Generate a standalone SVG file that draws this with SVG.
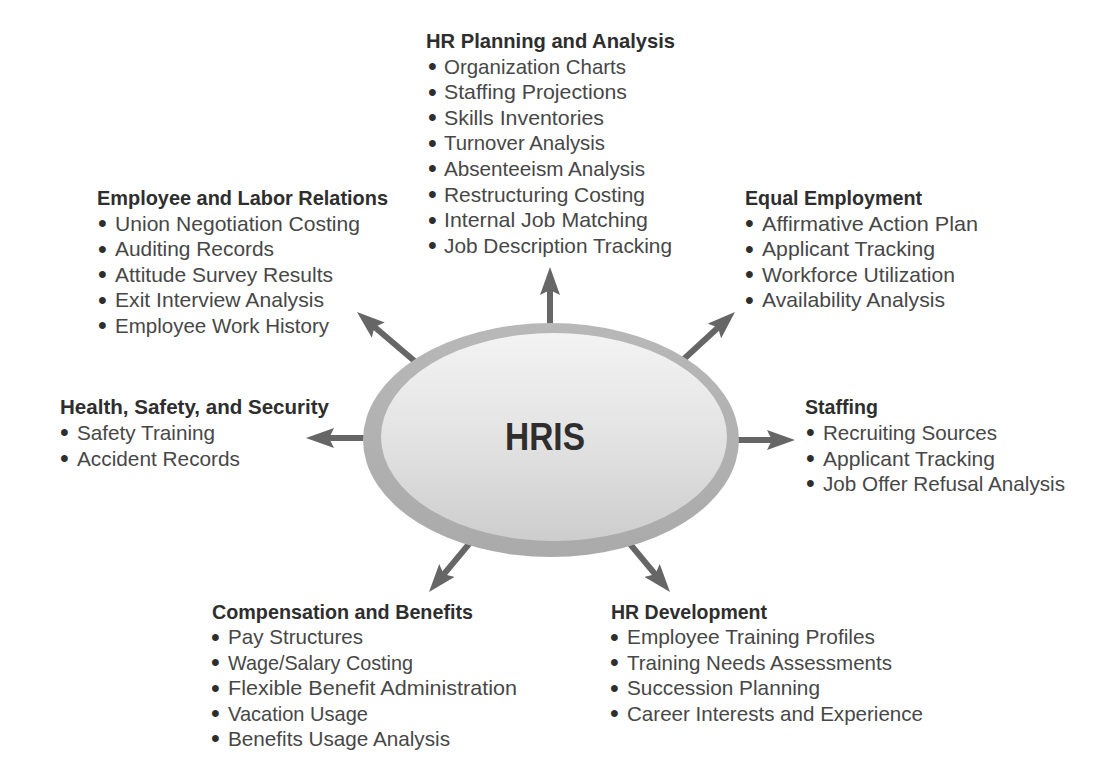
<svg xmlns="http://www.w3.org/2000/svg" width="1118" height="778" viewBox="0 0 1118 778">
  <style>
    .h { font-family: "Liberation Sans", Arial, sans-serif; font-weight: bold; font-size: 21px; fill: #2e2e2e; }
    .i { font-family: "Liberation Sans", Arial, sans-serif; font-size: 21px; fill: #474747; }
    .b { font-family: "Liberation Sans", Arial, sans-serif; font-size: 25px; fill: #2e2e2e; }
    .c { stroke: #666666; stroke-width: 6; fill: none; marker-end: url(#ah); }
    .hris { font-family: "Liberation Sans", Arial, sans-serif; font-weight: bold; font-size: 38px; fill: #2e2e2e; }
  </style>
  <defs>
    <marker id="ah" viewBox="0 0 28 20" refX="18" refY="10" markerWidth="28" markerHeight="20" orient="auto" markerUnits="userSpaceOnUse">
      <path d="M0,0 L28,10 L0,20 L5,10 Z" fill="#666666"/>
    </marker>
    <linearGradient id="ring" x1="0" y1="0" x2="0" y2="1">
      <stop offset="0" stop-color="#b8b8b8"/>
      <stop offset="1" stop-color="#aaaaaa"/>
    </linearGradient>
    <linearGradient id="face" x1="0" y1="0" x2="0" y2="1">
      <stop offset="0" stop-color="#f3f3f3"/>
      <stop offset="0.5" stop-color="#e3e3e3"/>
      <stop offset="1" stop-color="#cdcdcd"/>
    </linearGradient>
  </defs>
  <rect width="1118" height="778" fill="#ffffff"/>

  <g id="connectors">
    <line class="c" x1="550" y1="340" x2="550" y2="277"/>
    <line class="c" x1="425" y1="370" x2="364.6" y2="318.5"/>
    <line class="c" x1="672" y1="370" x2="727.6" y2="318.8"/>
    <line class="c" x1="380" y1="438" x2="316" y2="438"/>
    <line class="c" x1="720" y1="440" x2="785" y2="440"/>
    <line class="c" x1="484" y1="526" x2="435.4" y2="584.3"/>
    <line class="c" x1="615" y1="526" x2="663.6" y2="584.3"/>
  </g>

  <g id="hris">
    <ellipse cx="551" cy="440" rx="188" ry="117" fill="url(#ring)"/>
    <ellipse cx="554" cy="437" rx="173" ry="104" fill="url(#face)"/>
    <text class="hris" x="505" y="450" textLength="80" lengthAdjust="spacingAndGlyphs">HRIS</text>
  </g>

  <g id="hr-planning">
    <text class="h" x="426" y="48" textLength="249" lengthAdjust="spacingAndGlyphs">HR Planning and Analysis</text>
    <text class="b" x="428" y="75">•</text><text class="i" x="444" y="73.6" textLength="182" lengthAdjust="spacingAndGlyphs">Organization Charts</text>
    <text class="b" x="428" y="100.6">•</text><text class="i" x="444" y="99.2" textLength="183" lengthAdjust="spacingAndGlyphs">Staffing Projections</text>
    <text class="b" x="428" y="126.2">•</text><text class="i" x="444" y="124.8" textLength="160" lengthAdjust="spacingAndGlyphs">Skills Inventories</text>
    <text class="b" x="428" y="151.8">•</text><text class="i" x="444" y="150.4" textLength="161" lengthAdjust="spacingAndGlyphs">Turnover Analysis</text>
    <text class="b" x="428" y="177.4">•</text><text class="i" x="444" y="176" textLength="201" lengthAdjust="spacingAndGlyphs">Absenteeism Analysis</text>
    <text class="b" x="428" y="203">•</text><text class="i" x="444" y="201.6" textLength="201" lengthAdjust="spacingAndGlyphs">Restructuring Costing</text>
    <text class="b" x="428" y="228.6">•</text><text class="i" x="444" y="227.2" textLength="204" lengthAdjust="spacingAndGlyphs">Internal Job Matching</text>
    <text class="b" x="428" y="254.2">•</text><text class="i" x="444" y="252.8" textLength="228" lengthAdjust="spacingAndGlyphs">Job Description Tracking</text>
  </g>

  <g id="employee-labor">
    <text class="h" x="97" y="205" textLength="291" lengthAdjust="spacingAndGlyphs">Employee and Labor Relations</text>
    <text class="b" x="98" y="232">•</text><text class="i" x="115" y="230.6" textLength="245" lengthAdjust="spacingAndGlyphs">Union Negotiation Costing</text>
    <text class="b" x="98" y="257.6">•</text><text class="i" x="115" y="256.2" textLength="159" lengthAdjust="spacingAndGlyphs">Auditing Records</text>
    <text class="b" x="98" y="283.2">•</text><text class="i" x="115" y="281.8" textLength="218" lengthAdjust="spacingAndGlyphs">Attitude Survey Results</text>
    <text class="b" x="98" y="308.8">•</text><text class="i" x="115" y="307.4" textLength="209" lengthAdjust="spacingAndGlyphs">Exit Interview Analysis</text>
    <text class="b" x="98" y="334.4">•</text><text class="i" x="115" y="333" textLength="214" lengthAdjust="spacingAndGlyphs">Employee Work History</text>
  </g>

  <g id="equal-employment">
    <text class="h" x="745" y="205" textLength="177" lengthAdjust="spacingAndGlyphs">Equal Employment</text>
    <text class="b" x="745" y="232">•</text><text class="i" x="762" y="230.6" textLength="216" lengthAdjust="spacingAndGlyphs">Affirmative Action Plan</text>
    <text class="b" x="745" y="257.6">•</text><text class="i" x="762" y="256.2" textLength="173" lengthAdjust="spacingAndGlyphs">Applicant Tracking</text>
    <text class="b" x="745" y="283.2">•</text><text class="i" x="762" y="281.8" textLength="193" lengthAdjust="spacingAndGlyphs">Workforce Utilization</text>
    <text class="b" x="745" y="308.8">•</text><text class="i" x="762" y="307.4" textLength="183" lengthAdjust="spacingAndGlyphs">Availability Analysis</text>
  </g>

  <g id="health-safety">
    <text class="h" x="60" y="414" textLength="269" lengthAdjust="spacingAndGlyphs">Health, Safety, and Security</text>
    <text class="b" x="60" y="441.4">•</text><text class="i" x="77" y="440" textLength="138" lengthAdjust="spacingAndGlyphs">Safety Training</text>
    <text class="b" x="60" y="466.9">•</text><text class="i" x="77" y="465.5" textLength="163" lengthAdjust="spacingAndGlyphs">Accident Records</text>
  </g>

  <g id="staffing">
    <text class="h" x="805" y="414" textLength="73" lengthAdjust="spacingAndGlyphs">Staffing</text>
    <text class="b" x="806" y="441.4">•</text><text class="i" x="823" y="440" textLength="174" lengthAdjust="spacingAndGlyphs">Recruiting Sources</text>
    <text class="b" x="806" y="466.9">•</text><text class="i" x="823" y="465.5" textLength="172" lengthAdjust="spacingAndGlyphs">Applicant Tracking</text>
    <text class="b" x="806" y="492.4">•</text><text class="i" x="823" y="491" textLength="242" lengthAdjust="spacingAndGlyphs">Job Offer Refusal Analysis</text>
  </g>

  <g id="compensation">
    <text class="h" x="212" y="619" textLength="261" lengthAdjust="spacingAndGlyphs">Compensation and Benefits</text>
    <text class="b" x="211" y="645.8">•</text><text class="i" x="228" y="644.4" textLength="135" lengthAdjust="spacingAndGlyphs">Pay Structures</text>
    <text class="b" x="211" y="671.2">•</text><text class="i" x="228" y="669.8" textLength="185" lengthAdjust="spacingAndGlyphs">Wage/Salary Costing</text>
    <text class="b" x="211" y="696.6">•</text><text class="i" x="228" y="695.2" textLength="289" lengthAdjust="spacingAndGlyphs">Flexible Benefit Administration</text>
    <text class="b" x="211" y="722">•</text><text class="i" x="228" y="720.6" textLength="140" lengthAdjust="spacingAndGlyphs">Vacation Usage</text>
    <text class="b" x="211" y="747.4">•</text><text class="i" x="228" y="746" textLength="222" lengthAdjust="spacingAndGlyphs">Benefits Usage Analysis</text>
  </g>

  <g id="hr-development">
    <text class="h" x="611" y="619" textLength="156" lengthAdjust="spacingAndGlyphs">HR Development</text>
    <text class="b" x="610" y="645.8">•</text><text class="i" x="627" y="644.4" textLength="248" lengthAdjust="spacingAndGlyphs">Employee Training Profiles</text>
    <text class="b" x="610" y="671.2">•</text><text class="i" x="627" y="669.8" textLength="265" lengthAdjust="spacingAndGlyphs">Training Needs Assessments</text>
    <text class="b" x="610" y="696.6">•</text><text class="i" x="627" y="695.2" textLength="193" lengthAdjust="spacingAndGlyphs">Succession Planning</text>
    <text class="b" x="610" y="722">•</text><text class="i" x="627" y="720.6" textLength="296" lengthAdjust="spacingAndGlyphs">Career Interests and Experience</text>
  </g>
</svg>
